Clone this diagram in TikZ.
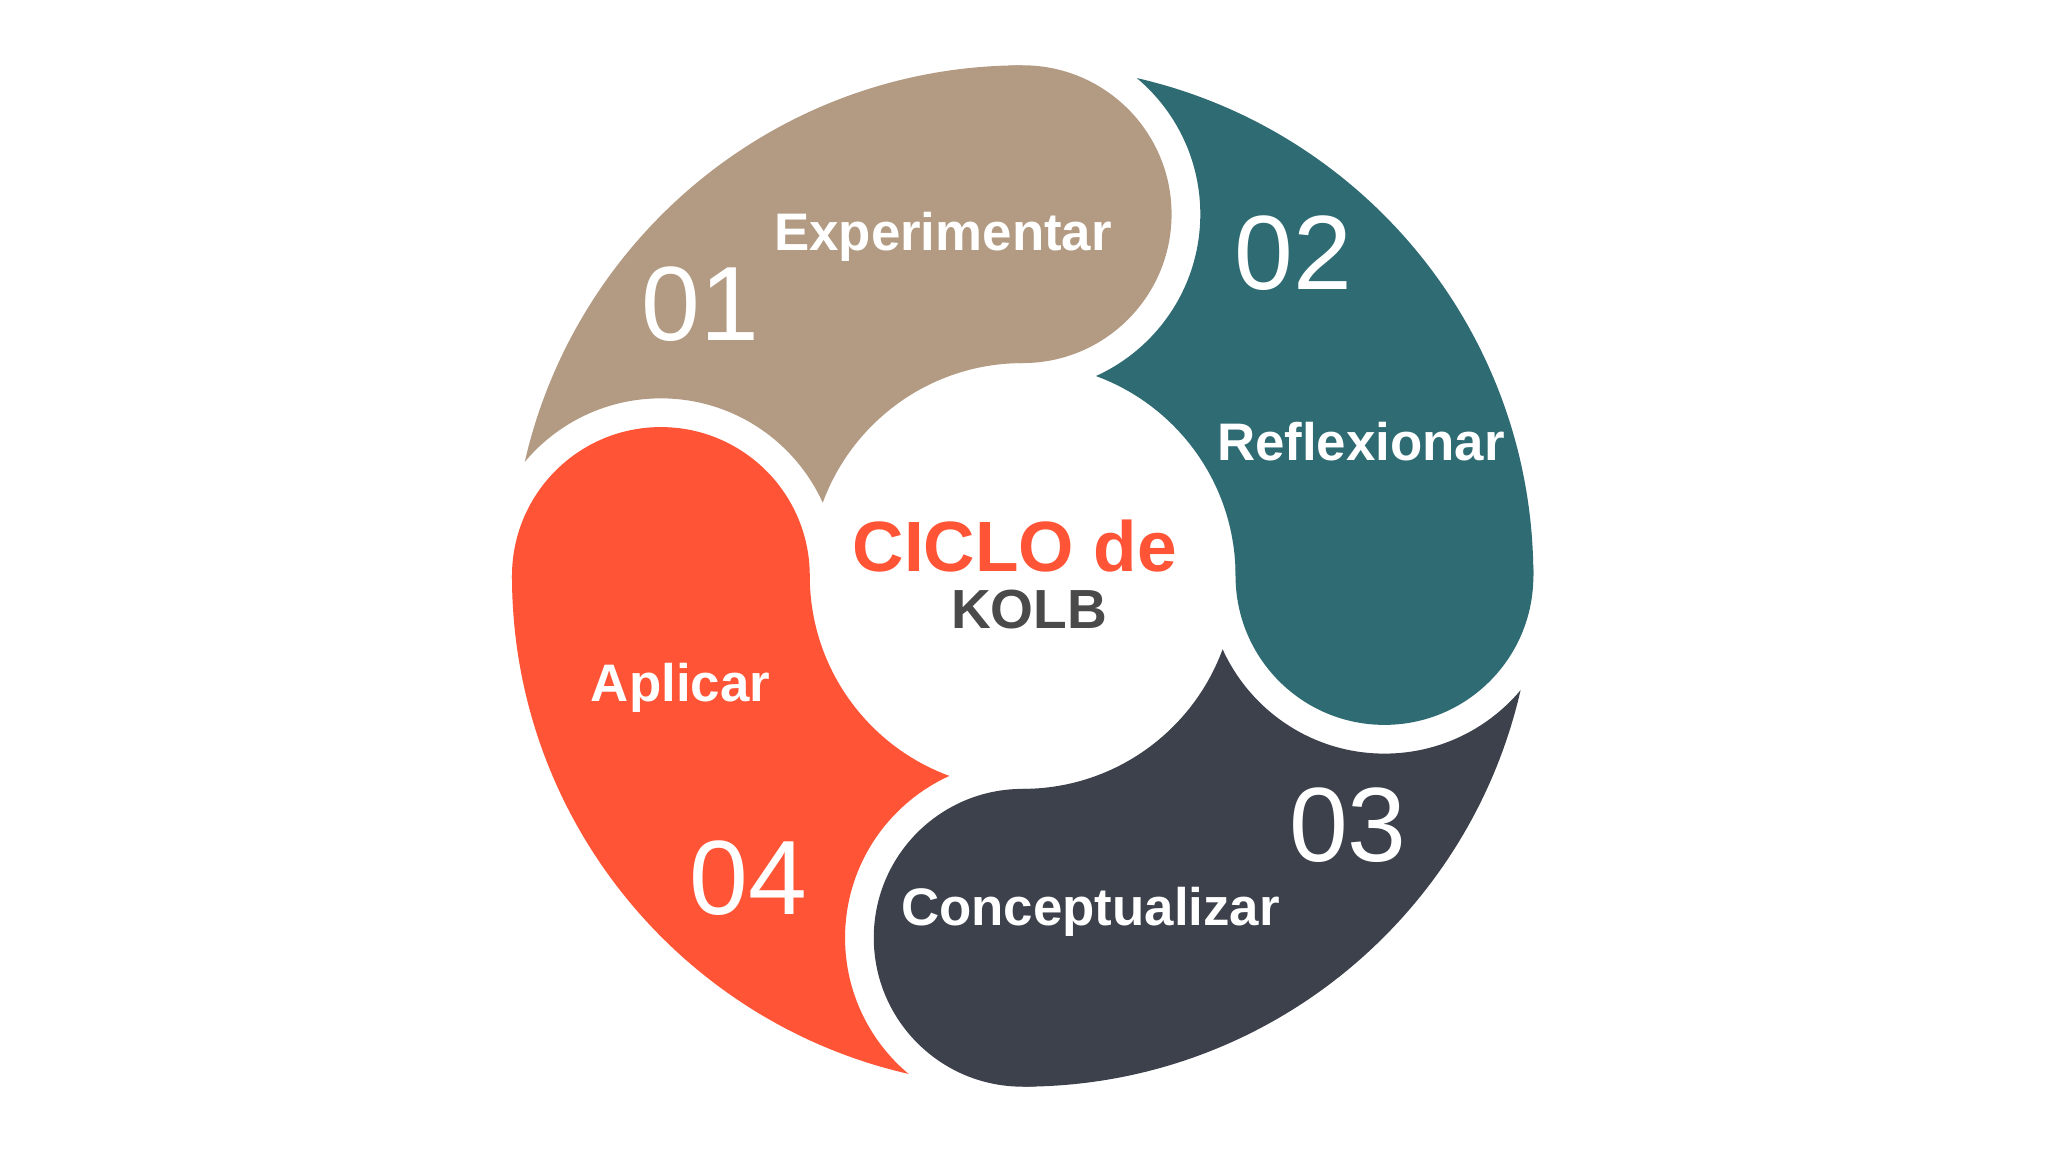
\documentclass[tikz,border=0pt]{standalone}
\usepackage{fontspec}
\setmainfont{Liberation Sans}
\definecolor{ctan}{HTML}{B39B83}
\definecolor{cteal}{HTML}{2F6B73}
\definecolor{cdark}{HTML}{3C414B}
\definecolor{corange}{HTML}{FF5436}
\definecolor{cgray}{HTML}{4A4A4A}
\tikzset{
  lbl/.style={text=white,font=\bfseries\fontsize{11.5}{13}\selectfont},
  num/.style={text=white,font=\fontsize{23}{26}\selectfont},
}
\newcommand{\kolbseg}[2]{% #1 tail angle, #2 colour
  \begin{scope}[even odd rule]
    \clip (-900,-500) rectangle (900,500) ({#1}:277) circle[radius=136];
    \fill[#2] ({#1}:391) arc[start angle={#1},end angle={#1-90},radius=391]
      -- ({#1-90}:163) arc[start angle={#1-90},end angle={#1},radius=163] -- cycle;
    \fill[#2] ({#1-90}:277) circle[radius=114];
  \end{scope}}
\begin{document}
\begin{tikzpicture}[x=0.01cm,y=0.01cm]
\useasboundingbox[fill=white] (-783,-441) rectangle (785,441);
\kolbseg{180}{ctan}
\kolbseg{90}{cteal}
\kolbseg{0}{cdark}
\kolbseg{270}{corange}
\node[lbl] (l1) at (-61,260) {Experimentar};
\node[lbl] (l2) at (259,103) {Reflexionar};
\node[lbl] (l3) at (52,-257) {Conceptualizar};
\node[lbl] (l4) at (-262,-86) {Aplicar};
\node[num] (n1) at (-247,208) {01};
\node[num] (n2) at (207,247) {02};
\node[num] (n3) at (249,-191) {03};
\node[num] (n4) at (-210,-231) {04};
\node[text=corange,font=\bfseries\fontsize{15.5}{17}\selectfont] (t1) at (-6,23) {CICLO de};
\node[text=cgray,font=\bfseries\fontsize{12}{14}\selectfont] (t2) at (5,-26) {KOLB};
\end{tikzpicture}
\end{document}
